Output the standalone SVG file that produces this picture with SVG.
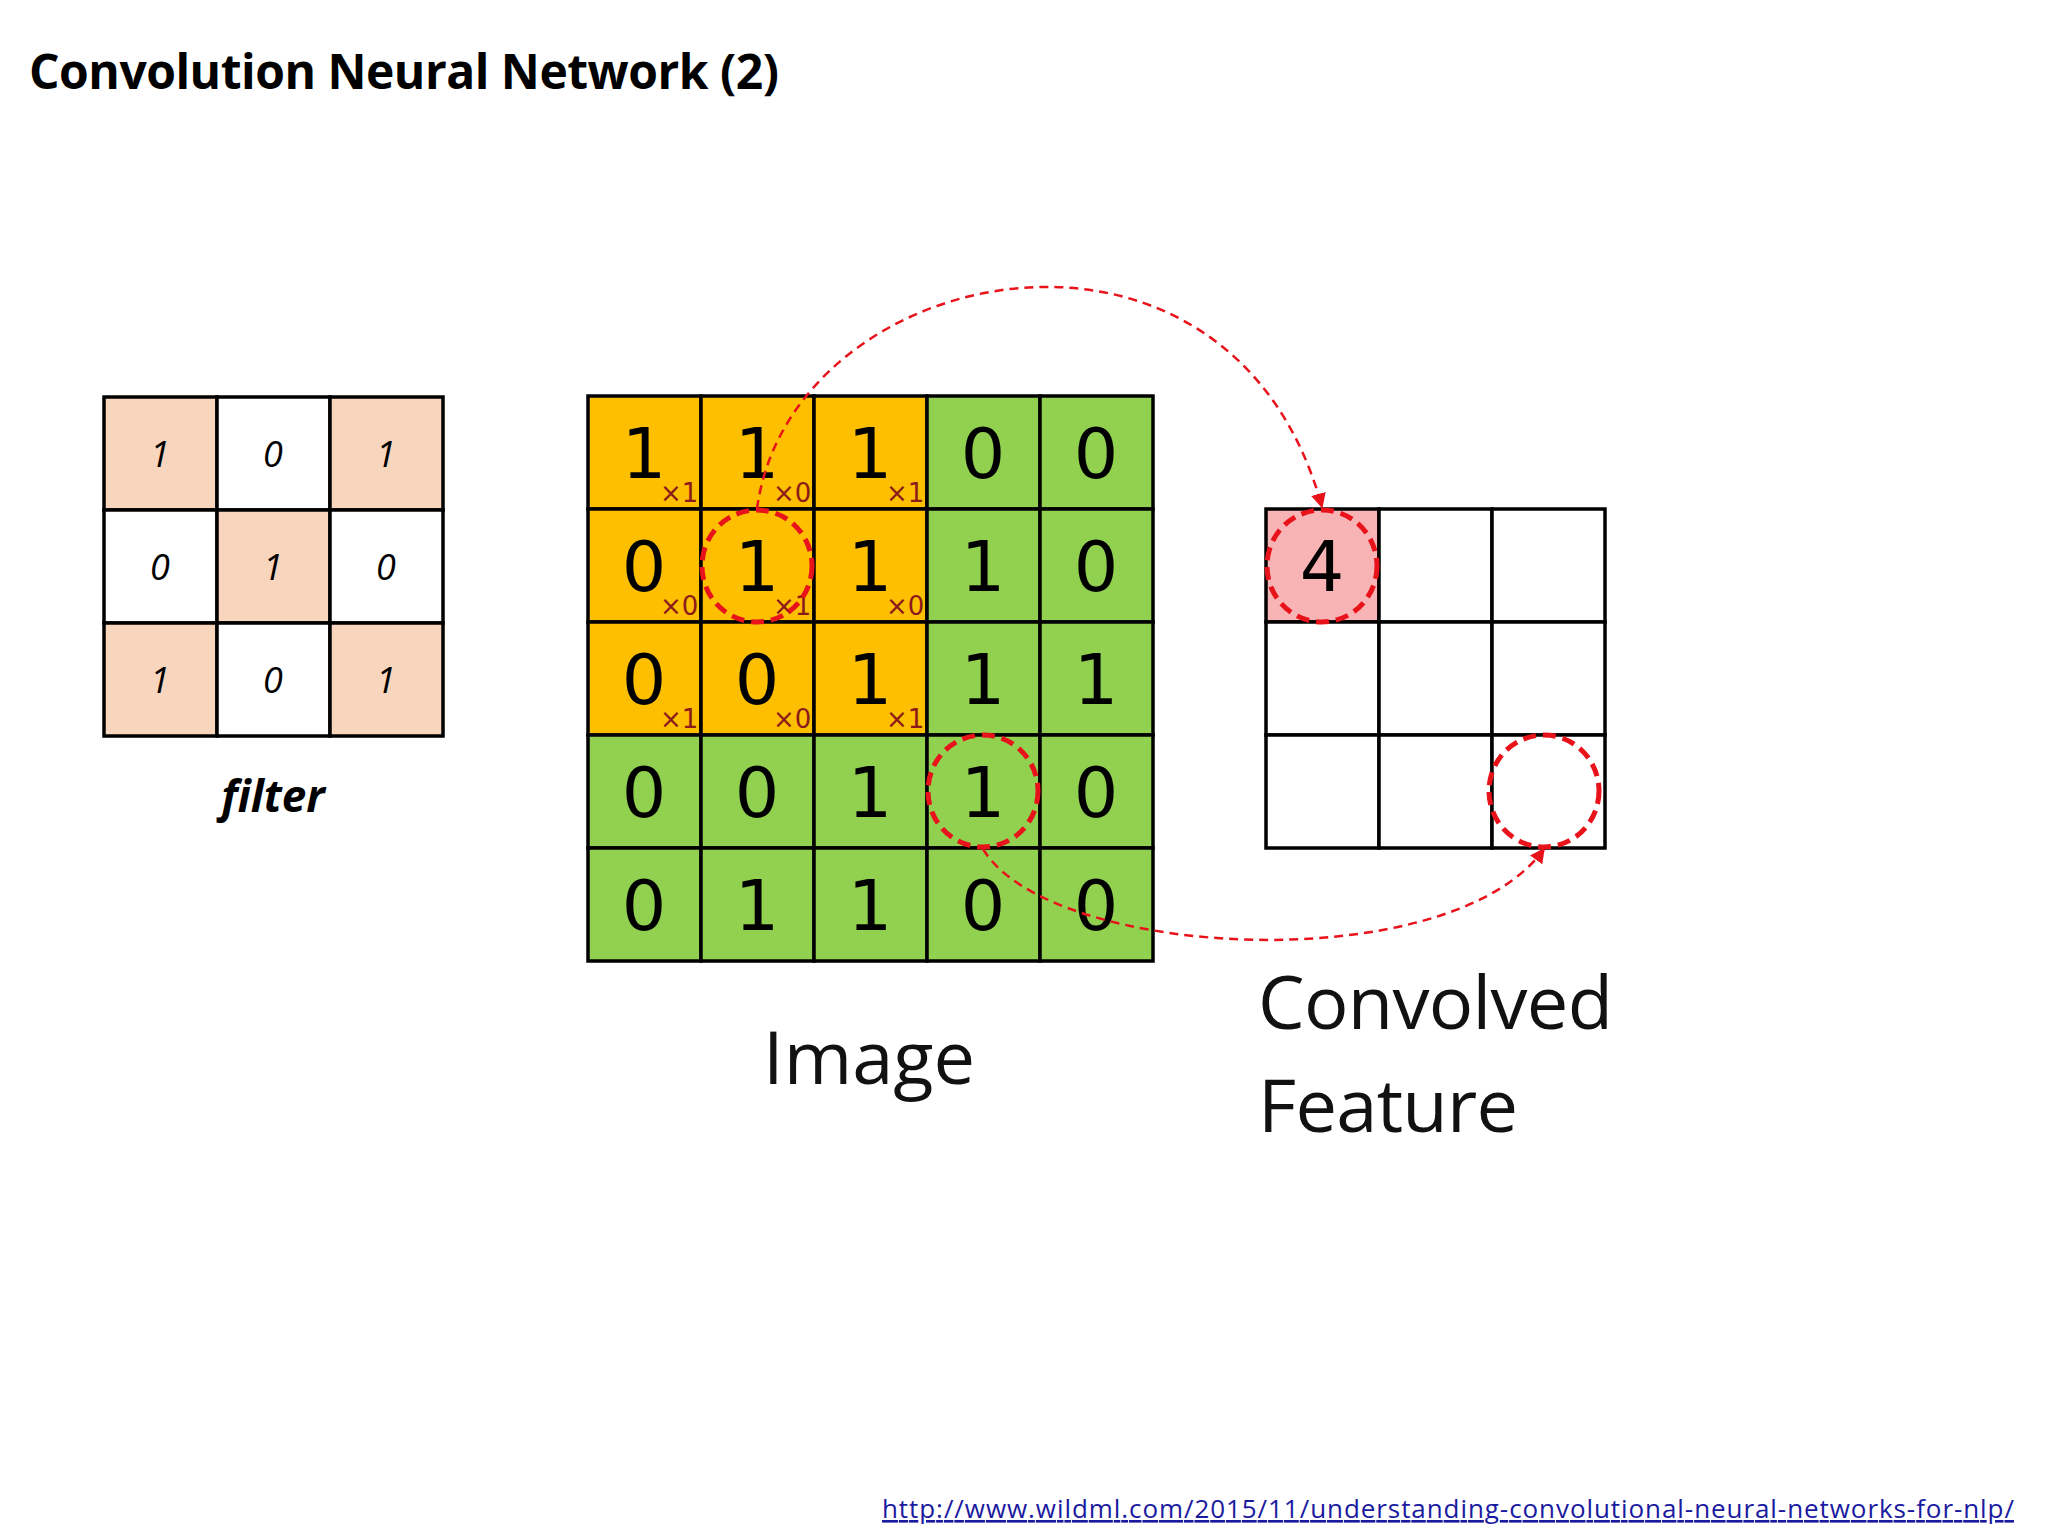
<svg xmlns="http://www.w3.org/2000/svg" width="2048" height="1536" viewBox="0 0 2048 1536">
<defs>
<style>
.g{stroke:#000;stroke-width:3.5}
.ft{font-family:"Open Sans","DejaVu Sans",sans-serif;font-style:italic;font-size:36px;text-anchor:middle}
.d{font-family:"DejaVu Sans",sans-serif;font-size:70px;text-anchor:middle}
.s{font-family:"DejaVu Sans",sans-serif;font-size:26px;fill:#8b1a1a}
.c{fill:none;stroke:#e8121a;stroke-width:5;stroke-dasharray:13 7}
.a{fill:none;stroke:#e8121a;stroke-width:2.5;stroke-dasharray:9 6}
.lbl{font-family:"Open Sans","DejaVu Sans",sans-serif;font-size:74px;fill:#111}
</style>
<marker id="ah" viewBox="0 0 10 10" refX="9" refY="5" markerWidth="6" markerHeight="6" orient="auto"><path d="M0,0 L10,5 L0,10 z" fill="#e8121a"/></marker>
</defs>
<rect width="2048" height="1536" fill="#fff"/>
<text x="29" y="89" font-family="Open Sans, DejaVu Sans, sans-serif" font-weight="bold" font-size="48" textLength="750">Convolution Neural Network (2)</text>

<g id="filter">
<g class="g">
<rect x="104" y="397" width="113" height="113" fill="#f8d5bd"/><rect x="217" y="397" width="113" height="113" fill="#fff"/><rect x="330" y="397" width="113" height="113" fill="#f8d5bd"/>
<rect x="104" y="510" width="113" height="113" fill="#fff"/><rect x="217" y="510" width="113" height="113" fill="#f8d5bd"/><rect x="330" y="510" width="113" height="113" fill="#fff"/>
<rect x="104" y="623" width="113" height="113" fill="#f8d5bd"/><rect x="217" y="623" width="113" height="113" fill="#fff"/><rect x="330" y="623" width="113" height="113" fill="#f8d5bd"/>
</g>
<text class="ft" x="160" y="467">1</text><text class="ft" x="273" y="467">0</text><text class="ft" x="386" y="467">1</text>
<text class="ft" x="160" y="580">0</text><text class="ft" x="273" y="580">1</text><text class="ft" x="386" y="580">0</text>
<text class="ft" x="160" y="693">1</text><text class="ft" x="273" y="693">0</text><text class="ft" x="386" y="693">1</text>
<text x="273" y="812" font-family="Open Sans, DejaVu Sans, sans-serif" font-style="italic" font-weight="bold" font-size="44" text-anchor="middle">filter</text>
</g>

<g id="image">
<g class="g">
<rect x="588" y="396" width="113" height="113" fill="#fdbf00"/><rect x="701" y="396" width="113" height="113" fill="#fdbf00"/><rect x="814" y="396" width="113" height="113" fill="#fdbf00"/><rect x="927" y="396" width="113" height="113" fill="#92d050"/><rect x="1040" y="396" width="113" height="113" fill="#92d050"/>
<rect x="588" y="509" width="113" height="113" fill="#fdbf00"/><rect x="701" y="509" width="113" height="113" fill="#fdbf00"/><rect x="814" y="509" width="113" height="113" fill="#fdbf00"/><rect x="927" y="509" width="113" height="113" fill="#92d050"/><rect x="1040" y="509" width="113" height="113" fill="#92d050"/>
<rect x="588" y="622" width="113" height="113" fill="#fdbf00"/><rect x="701" y="622" width="113" height="113" fill="#fdbf00"/><rect x="814" y="622" width="113" height="113" fill="#fdbf00"/><rect x="927" y="622" width="113" height="113" fill="#92d050"/><rect x="1040" y="622" width="113" height="113" fill="#92d050"/>
<rect x="588" y="735" width="113" height="113" fill="#92d050"/><rect x="701" y="735" width="113" height="113" fill="#92d050"/><rect x="814" y="735" width="113" height="113" fill="#92d050"/><rect x="927" y="735" width="113" height="113" fill="#92d050"/><rect x="1040" y="735" width="113" height="113" fill="#92d050"/>
<rect x="588" y="848" width="113" height="113" fill="#92d050"/><rect x="701" y="848" width="113" height="113" fill="#92d050"/><rect x="814" y="848" width="113" height="113" fill="#92d050"/><rect x="927" y="848" width="113" height="113" fill="#92d050"/><rect x="1040" y="848" width="113" height="113" fill="#92d050"/>
</g>
<text class="d" x="644" y="478">1</text><text class="d" x="757" y="478">1</text><text class="d" x="870" y="478">1</text><text class="d" x="983" y="478">0</text><text class="d" x="1096" y="478">0</text>
<text class="d" x="644" y="591">0</text><text class="d" x="757" y="591">1</text><text class="d" x="870" y="591">1</text><text class="d" x="983" y="591">1</text><text class="d" x="1096" y="591">0</text>
<text class="d" x="644" y="704">0</text><text class="d" x="757" y="704">0</text><text class="d" x="870" y="704">1</text><text class="d" x="983" y="704">1</text><text class="d" x="1096" y="704">1</text>
<text class="d" x="644" y="817">0</text><text class="d" x="757" y="817">0</text><text class="d" x="870" y="817">1</text><text class="d" x="983" y="817">1</text><text class="d" x="1096" y="817">0</text>
<text class="d" x="644" y="930">0</text><text class="d" x="757" y="930">1</text><text class="d" x="870" y="930">1</text><text class="d" x="983" y="930">0</text><text class="d" x="1096" y="930">0</text>
<text class="s" x="660" y="502">×1</text><text class="s" x="773" y="502">×0</text><text class="s" x="886" y="502">×1</text>
<text class="s" x="660" y="615">×0</text><text class="s" x="773" y="615">×1</text><text class="s" x="886" y="615">×0</text>
<text class="s" x="660" y="728">×1</text><text class="s" x="773" y="728">×0</text><text class="s" x="886" y="728">×1</text>
<text class="lbl" x="869" y="1084" text-anchor="middle">Image</text>
</g>

<g id="convolved">
<g class="g" fill="#fff">
<rect x="1266" y="509" width="113" height="113" fill="#f8b4b4"/><rect x="1379" y="509" width="113" height="113"/><rect x="1492" y="509" width="113" height="113"/>
<rect x="1266" y="622" width="113" height="113"/><rect x="1379" y="622" width="113" height="113"/><rect x="1492" y="622" width="113" height="113"/>
<rect x="1266" y="735" width="113" height="113"/><rect x="1379" y="735" width="113" height="113"/><rect x="1492" y="735" width="113" height="113"/>
</g>
<text class="d" x="1322" y="591">4</text>
<text class="lbl" x="1258" y="1029" textLength="355">Convolved</text>
<text class="lbl" x="1258" y="1132" textLength="260">Feature</text>
</g>

<g id="connectors">
<ellipse class="c" cx="757" cy="566" rx="55" ry="56"/>
<ellipse class="c" cx="983" cy="791" rx="55" ry="56"/>
<ellipse class="c" cx="1322" cy="566" rx="55" ry="56"/>
<ellipse class="c" cx="1544" cy="791" rx="55" ry="56"/>
<path class="a" d="M757,509 C790,260 1230,170 1322,507" marker-end="url(#ah)"/>
<path class="a" d="M983,849 C1050,960 1450,980 1544,849" marker-end="url(#ah)"/>
</g>

<text x="2014" y="1518" text-anchor="end" font-family="Open Sans, DejaVu Sans, sans-serif" font-size="26" fill="#1a1aa0" text-decoration="underline" textLength="1132">http://www.wildml.com/2015/11/understanding-convolutional-neural-networks-for-nlp/</text>
</svg>
